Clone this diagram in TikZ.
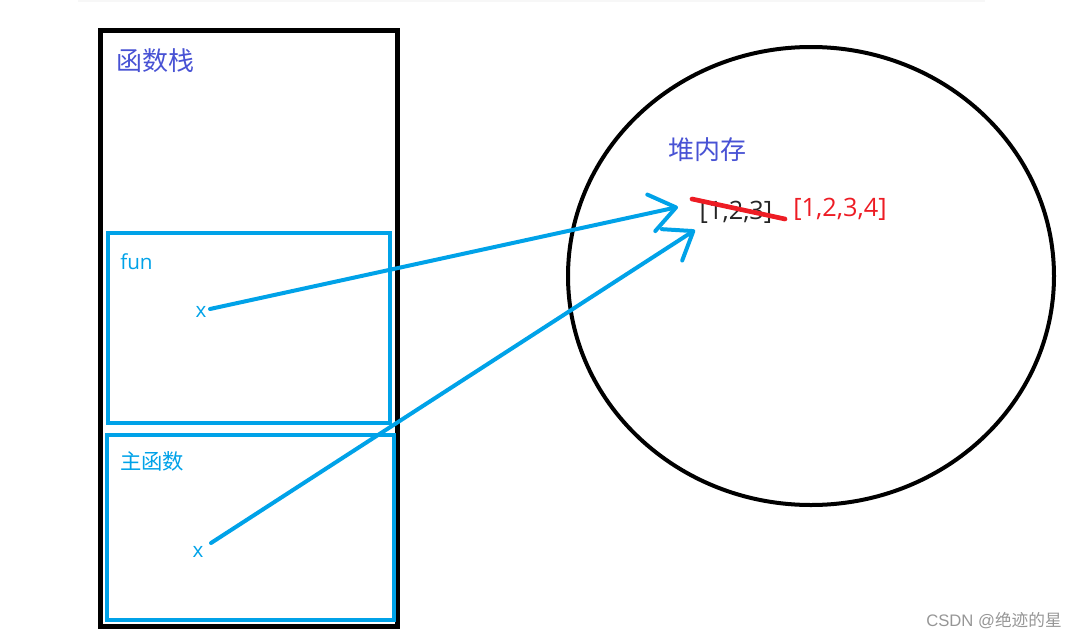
\documentclass[tikz,border=0pt]{standalone}
\usepackage{fontspec}
\usetikzlibrary{arrows.meta}
\newfontfamily\cjk{Noto Sans CJK SC}
\newfontfamily\lat{Open Sans}
\newfontfamily\arialish{Liberation Sans}
\definecolor{titleblue}{RGB}{72,82,212}
\definecolor{skyline}{RGB}{0,162,232}
\definecolor{paintred}{RGB}{237,28,36}
\definecolor{wmgray}{RGB}{150,150,150}
\tikzset{
  stackbox/.style={draw=black,line width=3.75pt},
  framebox/.style={draw=skyline,line width=3pt},
  heap/.style={draw=black,line width=3pt},
  lbl/.style={inner sep=0pt,font=\cjk\fontsize{19.5}{22}\selectfont},
  arr/.style={inner sep=0pt,font=\lat\fontsize{19}{22}\selectfont},
  small/.style={inner sep=0pt,font=\cjk\fontsize{16}{19}\selectfont,text=skyline},
  smalllat/.style={inner sep=0pt,font=\lat\fontsize{15.5}{19}\selectfont,text=skyline},
  ptr/.style={draw=skyline,line width=3pt,line cap=round,
    -{Straight Barb[length=19pt,width=28pt,line cap=round,line join=round]}},
}
\begin{document}
\begin{tikzpicture}[x=0.75pt,y=-0.75pt]
\useasboundingbox (0,0) rectangle (1078,639);
% faint top shadow line
\draw[gray!6,line width=1.5pt] (78,1) -- (985,1);
% stack
\draw[stackbox] (100.5,30.5) rectangle (397.5,626);
\node[lbl,text=titleblue] (stk) at (155,61) {函数栈};
\draw[framebox] (107.5,232.5) rectangle (389.5,422.5);
\node[smalllat,anchor=west] (fun) at (120,262) {fun};
\node[smalllat] (x1) at (201,312) {x};
\draw[framebox] (107,435) rectangle (394,620);
\node[small,anchor=west] (main) at (120,461) {主函数};
\node[smalllat] (x2) at (198,552) {x};
% heap
\draw[heap] (811,276) ellipse [x radius=243,y radius=229];
\node[lbl,text=titleblue,anchor=west] (hp) at (668,150) {堆内存};
\node[arr,text=black!85] (old) at (736,212) {[1,2,3]};
\node[arr,text=paintred] (new) at (840,209) {[1,2,3,4]};
\coordinate (s1a) at (692,199);
\coordinate (s1b) at (785,219);
\draw[paintred,line width=3.5pt,line cap=round] (s1a) -- (s1b);
% pointers
\coordinate (p1) at (210,309);
\coordinate (t1) at (678,207);
\coordinate (p2) at (211,543);
\coordinate (t2) at (695,230);
\draw[ptr] (p1) -- (t1);
\draw[ptr] (p2) -- (t2);
% watermark
\node[inner sep=0pt,font=\fontsize{12.5}{14}\selectfont,text=wmgray] (wm) at (994,621) {\arialish CSDN @\cjk 绝迹的星};
\end{tikzpicture}
\end{document}
